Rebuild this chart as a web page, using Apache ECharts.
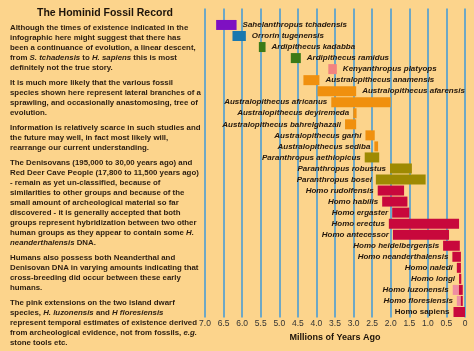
<!DOCTYPE html>
<html>
<head>
<meta charset="utf-8">
<script src="https://cdn.jsdelivr.net/npm/echarts@6/dist/echarts.min.js"></script>
<style>
  html, body { margin: 0; padding: 0; background-color: #fcd48c; }
  .wrap { position: relative; width: 474px; height: 351px; overflow: hidden; }
  #chart { position: absolute; left: 0; top: 0; width: 474px; height: 351px; }
  .title {
    position: absolute; left: 0; top: 5px; width: 210px; text-align: center;
    font-family: 'Liberation Sans', Arial, sans-serif; font-weight: bold;
    font-size: 10.5px; line-height: 14px; color: #1e140a; margin: 0;
  }
  .notes {
    position: absolute; left: 10px; top: 23px;
    font-family: 'Liberation Sans', Arial, sans-serif; font-weight: bold;
    font-size: 7.85px; line-height: 10px; color: #2b1d10; white-space: nowrap;
  }
  .notes p { margin: 5px 0 0 0; }
  .notes p:first-child { margin-top: 0; }
</style>
</head>
<body>
<div class="wrap">
  <div id="chart"></div>
  <div class="title">The Hominid Fossil Record</div>
  <div class="notes">
    <p>Although the times of existence indicated in the<br>
    infographic here might suggest that there has<br>
    been a continuance of evolution, a linear descent,<br>
    from <i>S. tchadensis</i> to <i>H. sapiens</i> this is most<br>
    definitely not the true story.</p>
    <p>It is much more likely that the various fossil<br>
    species shown here represent lateral branches of a<br>
    sprawling, and occasionally anastomosing, tree of<br>
    evolution.</p>
    <p>Information is relatively scarce in such studies and<br>
    the future may well, in fact most likely will,<br>
    rearrange our current understanding.</p>
    <p>The Denisovans (195,000 to 30,00 years ago) and<br>
    Red Deer Cave People (17,800 to 11,500 years ago)<br>
    - remain as yet un-classified, because of<br>
    similarities to other groups and because of the<br>
    small amount of archeological material so far<br>
    discovered - it is generally accepted that both<br>
    groups represent hybridization between two other<br>
    human groups as they appear to contain some <i>H.</i><br>
    <i>neanderthalensis</i> DNA.</p>
    <p>Humans also possess both Neanderthal and<br>
    Denisovan DNA in varying amounts indicating that<br>
    cross-breeding did occur between these early<br>
    humans.</p>
    <p>The pink extensions on the two island dwarf<br>
    species, <i>H. luzonensis</i> and <i>H floresiensis</i><br>
    represent temporal estimates of existence derived<br>
    from archeological evidence, not from fossils, <i>e.g.</i><br>
    stone tools etc.</p>
  </div>
</div>

<script>
// species, oldest → youngest (top to bottom)
const species = [
  'Sahelanthropus tchadensis', 'Orrorin tugenensis', 'Ardipithecus kadabba',
  'Ardipithecus ramidus', 'Kenyanthropus platyops', 'Australopithecus anamensis',
  'Australopithecus afarensis', 'Australopithecus africanus', 'Australopithecus deyiremeda',
  'Australopithecus bahrelghazali', 'Australopithecus garhi', 'Australopithecus sediba',
  'Paranthropus aethiopicus', 'Paranthropus robustus', 'Paranthropus bosei',
  'Homo rudolfensis', 'Homo habilis', 'Homo ergaster', 'Homo erectus',
  'Homo antecessor', 'Homo heidelbergensis', 'Homo neanderthalensis', 'Homo naledi',
  'Homo longi', 'Homo luzonensis', 'Homo floresiensis', 'Homo sapiens'
]
// millions of years ago
const firstSeen = [
  6.70, 6.26, 5.55, 4.69, 3.68, 4.35, 3.97, 3.60, 3.01,
  3.23, 2.68, 2.44, 2.70, 2.02, 2.40, 2.35, 2.23, 1.96,
  2.05, 1.94, 0.59, 0.34, 0.22, 0.16, 0.17, 0.12, 0.31
]
const lastSeen = [
  6.15, 5.90, 5.37, 4.42, 3.45, 3.92, 2.93, 2.00, 2.92,
  2.93, 2.43, 2.34, 2.31, 1.43, 1.06, 1.64, 1.55, 1.50,
  0.16, 0.43, 0.14, 0.11, 0.11, 0.10, 0.06, 0.06, 0.00
]
// archeological (non fossil) estimates - the pink extensions
const toolsFrom = [
  null, null, null, null, null, null, null, null, null,
  null, null, null, null, null, null, null, null, null,
  null, null, null, null, null, null, 0.33, 0.22, null
]

const genusColour = {
  Sahelanthropus: '#7e10c2',
  Orrorin: '#1a78ae',
  Ardipithecus: '#3b7a17',
  Kenyanthropus: '#f2837f',
  Australopithecus: '#f0900e',
  Paranthropus: '#9e8a02',
  Homo: '#c8083c'
}
const toolsColour = '#ee8ea2'
const labelsRightUntil = 7 // the first rows carry their name right of the bar

let chart = null
function initChart () {
  chart = echarts.init(document.getElementById('chart'))

  const labelFor = function (i, show) {
    const right = i < labelsRightUntil
    return {
      show: show,
      position: right ? 'right' : 'left',
      distance: right ? 6 : 4,
      formatter: '{b}',
      fontFamily: 'Liberation Sans, Arial, sans-serif',
      fontSize: 8,
      fontWeight: 'bold',
      fontStyle: species[i] === 'Homo sapiens' ? 'normal' : 'italic',
      color: '#24170c'
    }
  }

  const base = ['-']
  const span = ['-']
  const extra = ['-']
  species.forEach(function (name, i) {
    const hasTools = toolsFrom[i] !== null
    base.push(lastSeen[i])
    span.push({
      value: +(firstSeen[i] - lastSeen[i]).toFixed(2),
      itemStyle: { color: genusColour[name.split(' ')[0]] },
      label: labelFor(i, !hasTools)
    })
    extra.push(hasTools ? {
      value: +(toolsFrom[i] - firstSeen[i]).toFixed(2),
      itemStyle: { color: toolsColour },
      label: labelFor(i, true)
    } : '-')
  })

  const option = {
    animation: false,
    grid: {
      left: 205,
      right: 9,
      top: 8.4,
      bottom: 33.5
    },
    xAxis: {
      type: 'value',
      inverse: true,
      min: 0,
      max: 7,
      interval: 0.5,
      axisLine: { show: false },
      axisTick: { show: false },
      splitLine: { lineStyle: { color: '#6ea8c6', width: 2 } },
      axisLabel: {
        margin: 2,
        fontFamily: 'Liberation Sans, Arial, sans-serif',
        fontSize: 8.5,
        color: '#333333',
        formatter: function (v) { return v === 0 ? '0' : v.toFixed(1) }
      },
      name: 'Millions of Years Ago',
      nameLocation: 'middle',
      nameGap: 13,
      nameTextStyle: {
        fontFamily: 'Liberation Sans, Arial, sans-serif',
        fontSize: 9,
        fontWeight: 'bold',
        color: '#1e140a'
      }
    },
    yAxis: {
      type: 'category',
      inverse: true,
      show: false,
      data: [''].concat(species)
    },
    series: [
      {
        type: 'bar',
        stack: 'range',
        barWidth: 10,
        silent: true,
        itemStyle: { color: 'transparent' },
        data: base
      },
      {
        type: 'bar',
        stack: 'range',
        barWidth: 10,
        data: span
      },
      {
        type: 'bar',
        stack: 'range',
        barWidth: 10,
        data: extra
      }
    ]
  }

  chart.setOption(option)
  return chart
}
initChart()
</script>
</body>
</html>
